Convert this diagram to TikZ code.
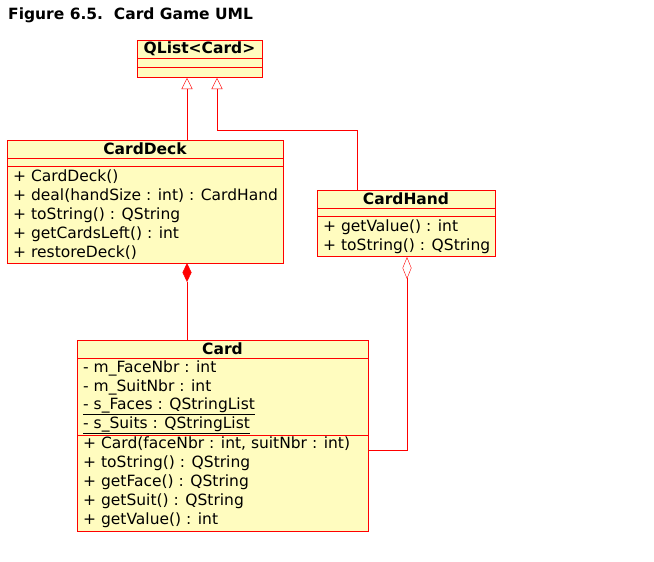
\documentclass[tikz,border=0pt]{standalone}
\usepackage{fontspec}
\setmainfont{DejaVu Sans}
\usetikzlibrary{arrows.meta,calc}
\begin{document}
\begin{tikzpicture}[x=1pt, y=-1pt,
    box/.style={draw=red, fill=yellow!25, anchor=north west, inner sep=0pt},
    head/.style={font=\bfseries\fontsize{15.5}{17}\selectfont},
    member/.style={anchor=west, inner sep=0pt, font=\fontsize{15.5}{17}\selectfont},
    inherit/.style={draw=red, -{Triangle[open, length=11pt, width=11pt, fill=white]}},
    compose/.style={draw=red, {Diamond[length=19pt, width=9pt, fill=red]}-},
    aggregate/.style={draw=red, {Diamond[open, length=22pt, width=9pt, fill=white]}-}]
\useasboundingbox (0,0) rectangle (654,562);

\node[anchor=west, inner sep=0pt, font=\bfseries\fontsize{15.5}{17}\selectfont] (title) at (8,15) {Figure 6.5.\ \ Card Game UML};

% class boxes
\node[box, minimum width=125pt, minimum height=37pt] (qlist) at (137,40) {};
\node[box, minimum width=276pt, minimum height=123pt] (deck) at (7,140) {};
\node[box, minimum width=178pt, minimum height=66pt] (hand) at (317,190) {};
\node[box, minimum width=291pt, minimum height=191pt] (card) at (77,340) {};

% QList<Card>
\node[head] (qlistname) at (199.5,49) {QList<Card>};
\draw[red] (137,58) -- (262,58) (137,67) -- (262,67);

% CardDeck
\node[head] (deckname) at (145,149) {CardDeck};
\draw[red] (7,158) -- (283,158) (7,166) -- (283,166);
\foreach \txt [count=\i] in {+ CardDeck(), + deal(handSize : int) : CardHand,
    + toString() : QString, + getCardsLeft() : int, + restoreDeck()}
  \node[member] (deckop\i) at (13,158+19*\i) {\txt};

% CardHand
\node[head] (handname) at (406,199) {CardHand};
\draw[red] (317,208) -- (495,208) (317,216) -- (495,216);
\node[member] (handop1) at (323,227) {+ getValue() : int};
\node[member] (handop2) at (323,246) {+ toString() : QString};

% Card
\node[head] (cardname) at (222.5,349) {Card};
\draw[red] (77,358) -- (368,358) (77,435) -- (368,435);
\node[member] (cardat1) at (83,368) {- m\_FaceNbr : int};
\node[member] (cardat2) at (83,387) {- m\_SuitNbr : int};
\node[member] (cardat3) at (83,406) {\underline{- s\_Faces : QStringList}};
\node[member] (cardat4) at (83,425) {\underline{- s\_Suits : QStringList}};
\foreach \txt [count=\i] in {+ Card(faceNbr : int{,} suitNbr : int), + toString() : QString,
    + getFace() : QString, + getSuit() : QString, + getValue() : int}
  \node[member] (cardop\i) at (83,425+19*\i) {\txt};

% relations
\coordinate (deckup) at (187,140);
\coordinate (qlistin1) at (187,78);
\coordinate (handup) at (357,190);
\coordinate (qlistin2) at (217,78);
\coordinate (deckdown) at (187,263);
\coordinate (cardup) at (187,340);
\coordinate (handdown) at (407,257);
\coordinate (cardright) at (368,450);

\draw[inherit] (deckup) -- (qlistin1);
\draw[inherit] (handup) |- (217,130) -- (qlistin2);
\draw[compose] (deckdown) -- (cardup);
\draw[aggregate] (handdown) |- (cardright);
\end{tikzpicture}
\end{document}
